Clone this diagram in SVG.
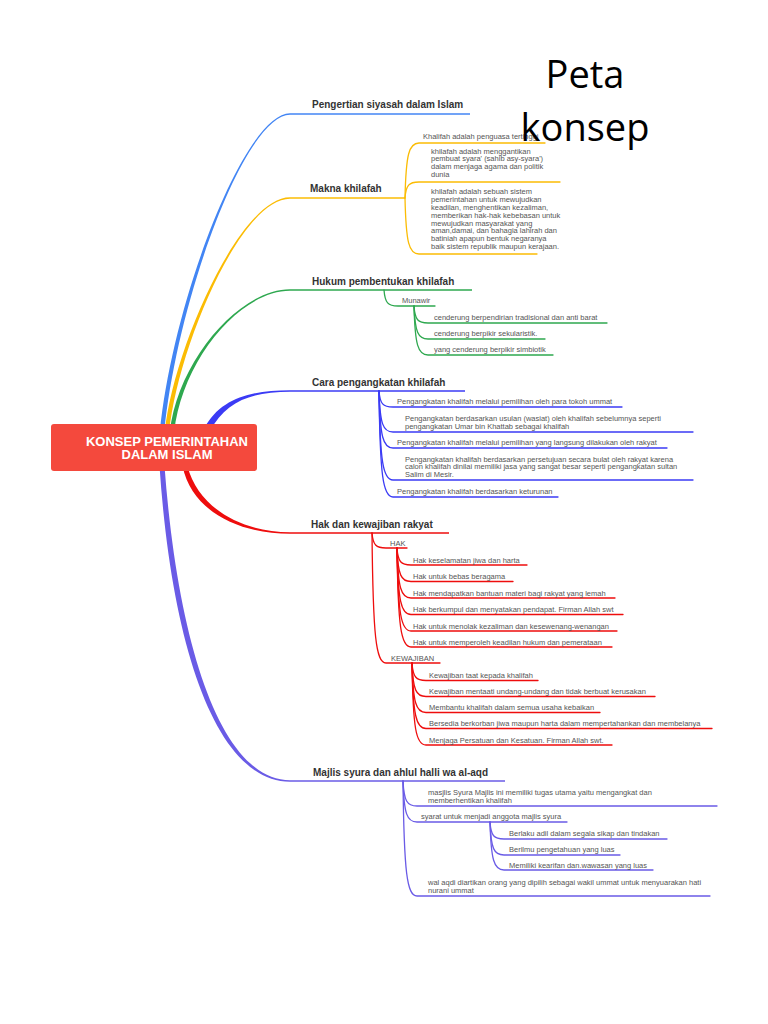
<svg xmlns="http://www.w3.org/2000/svg" width="768" height="1024" viewBox="0 0 768 1024">
<style>
.lbl{font-family:"Liberation Sans",Arial,sans-serif;font-size:10px;font-weight:bold;fill:#333}
.t{font-family:"Liberation Sans",Arial,sans-serif;font-size:7.5px;fill:#555}
.c{fill:none;stroke-width:1.3;stroke-linecap:round}
.m{fill:none;stroke-width:1.6}
.yel{stroke:#fbbc04}.blu{stroke:#4285f4}.grn{stroke:#2ea84f}.bl2{stroke:#3b3bf5}.red{stroke:#ee0d0d}.pur{stroke:#6a5be6}
.title{font-family:"Open Sans","Liberation Sans",sans-serif;font-size:38px;fill:#000}
.ctext{font-family:"Liberation Sans",Arial,sans-serif;font-size:13px;font-weight:bold;fill:#fff}
</style>
<rect width="768" height="1024" fill="#fff"/>
<g id="connectors">
  <!-- main branches (tapered) -->
  <path d="M159.8,432 C172.8,300 245,113.2 290,113.2 L290,114.8 C245,114.8 177.2,300 164.2,432 Z" fill="#4285f4"/>
  <line x1="290" y1="114" x2="470" y2="114" class="m blu"/>
  <path d="M164.8,432 C172.8,350 240,197.2 290,197.2 L290,198.8 C240,198.8 177.2,350 169.2,432 Z" fill="#fbbc04"/>
  <line x1="290" y1="198" x2="405" y2="198" class="m yel"/>
  <path d="M169.8,432 C177.8,360 240,289.2 290,289.2 L290,290.8 C240,290.8 182.2,360 174.2,432 Z" fill="#2ea84f"/>
  <line x1="290" y1="290" x2="472" y2="290" class="m grn"/>
  <path d="M204.5,428 C220,399 250,390.2 290,390.2 L290,391.8 C252,391.8 226,401 210,431 Z" fill="#3b3bf5"/>
  <line x1="290" y1="391" x2="465" y2="391" class="m bl2"/>
  <path d="M182.5,466 C192,512 240,533.8 290,533.8 L290,532.2 C242,532.2 198,508 187.5,466 Z" fill="#ee0d0d"/>
  <line x1="290" y1="533" x2="449" y2="533" class="m red"/>
  <path d="M159.5,466 C172,652 218,781.8 290,781.8 L290,780.2 C222,780.2 178,648 164.5,466 Z" fill="#6a5be6"/>
  <line x1="290" y1="781" x2="505" y2="781" class="m pur"/>

  <!-- Makna khilafah children -->
  <path d="M405,198 C406,154 409,143 419,143 H545" class="c yel"/>
  <path d="M405,198 C406,185 409,182 419,182 H560" class="c yel"/>
  <path d="M405,198 C406,243 409,254 419,254 H537" class="c yel"/>

  <!-- Hukum children -->
  <path d="M384,290 C385,303 388,306 398,306 H435" class="c grn"/>
  <path d="M414,306 C415,320 418,323 428,323 H607" class="c grn"/>
  <path d="M414,306 C415,332 418,339 428,339 H545" class="c grn"/>
  <path d="M414,306 C415,345 418,355 428,355 H553" class="c grn"/>

  <!-- Cara children -->
  <path d="M379,391 C380,404 383,407 393,407 H622" class="c bl2"/>
  <path d="M379,391 C380,424 383,432 393,432 H693" class="c bl2"/>
  <path d="M379,391 C380,437 383,448 393,448 H667" class="c bl2"/>
  <path d="M379,391 C380,462 383,480 393,480 H693" class="c bl2"/>
  <path d="M379,391 C380,476 383,497 393,497 H558" class="c bl2"/>

  <!-- Hak children -->
  <path d="M372,533 C373,545 376,548 386,548 H407" class="c red"/>
  <path d="M372,533 C373,637 376,663 386,663 H440" class="c red"/>
  <path d="M397,548 C398,562 401,565 411,565 H527" class="c red"/>
  <path d="M397,548 C398,575 401,581.5 411,581.5 H513" class="c red"/>
  <path d="M397,548 C398,588 401,598 411,598 H615" class="c red"/>
  <path d="M397,548 C398,601 401,614.5 411,614.5 H623" class="c red"/>
  <path d="M397,548 C398,614 401,631 411,631 H617" class="c red"/>
  <path d="M397,548 C398,627 401,647 411,647 H612" class="c red"/>
  <path d="M412,663 C413,677 416,680.5 426,680.5 H538" class="c red"/>
  <path d="M412,663 C413,690 416,696.5 426,696.5 H655" class="c red"/>
  <path d="M412,663 C413,703 416,712.5 426,712.5 H600" class="c red"/>
  <path d="M412,663 C413,715 416,728.5 426,728.5 H712" class="c red"/>
  <path d="M412,663 C413,729 416,745 426,745 H612" class="c red"/>

  <!-- Majlis children -->
  <path d="M403,781 C404,801 407,806 417,806 H717" class="c pur"/>
  <path d="M403,781 C404,814 407,822 417,822 H567" class="c pur"/>
  <path d="M403,781 C404,873 407,896 417,896 H710" class="c pur"/>
  <path d="M490,822 C491,836 494,839 504,839 H667" class="c pur"/>
  <path d="M490,822 C491,849 494,855 504,855 H620" class="c pur"/>
  <path d="M490,822 C491,860 494,870 504,870 H653" class="c pur"/>
</g>

<g id="center">
  <rect x="51" y="424" width="206" height="47" rx="3" fill="#f4493d"/>
  <text class="ctext" x="167" y="446" text-anchor="middle">KONSEP PEMERINTAHAN</text>
  <text class="ctext" x="167" y="459" text-anchor="middle">DALAM ISLAM</text>
</g>

<g id="pengertian"><text class="lbl" x="312" y="108">Pengertian siyasah dalam Islam</text></g>

<g id="makna">
  <text class="lbl" x="310" y="192">Makna khilafah</text>
  <g id="makna-1"><text class="t" x="423" y="139">Khalifah adalah penguasa tertinggi</text></g>
  <g id="makna-2"><text class="t" x="431" y="153.5">khilafah adalah menggantikan</text>
  <text class="t" x="431" y="161.3">pembuat syara' (sahib asy-syara')</text>
  <text class="t" x="431" y="169.1">dalam menjaga agama dan politik</text>
  <text class="t" x="431" y="176.9">dunia</text></g>
  <g id="makna-3"><text class="t" x="431" y="194.3">khilafah adalah sebuah sistem</text>
  <text class="t" x="431" y="202.1">pemerintahan untuk mewujudkan</text>
  <text class="t" x="431" y="209.9">keadilan, menghentikan kezaliman,</text>
  <text class="t" x="431" y="217.7">memberikan hak-hak kebebasan untuk</text>
  <text class="t" x="431" y="225.5">mewujudkan masyarakat yang</text>
  <text class="t" x="431" y="233.3">aman,damai, dan bahagia lahirah dan</text>
  <text class="t" x="431" y="241.1">batiniah apapun bentuk negaranya</text>
  <text class="t" x="431" y="248.9">baik sistem republik maupun kerajaan.</text></g>
</g>

<g id="hukum">
  <text class="lbl" x="312" y="285">Hukum pembentukan khilafah</text>
  <g id="munawir"><text class="t" x="402" y="303">Munawir</text></g>
  <g id="hukum-1"><text class="t" x="434" y="320">cenderung berpendirian tradisional dan anti barat</text></g>
  <g id="hukum-2"><text class="t" x="434" y="336">cenderung berpikir sekularistik.</text></g>
  <g id="hukum-3"><text class="t" x="434" y="352">yang cenderung berpikir simbiotik</text></g>
</g>

<g id="cara">
  <text class="lbl" x="312" y="386">Cara pengangkatan khilafah</text>
  <g id="cara-1"><text class="t" x="397" y="404">Pengangkatan khalifah melalui pemilihan oleh para tokoh ummat</text></g>
  <g id="cara-2"><text class="t" x="405" y="421">Pengangkatan berdasarkan usulan (wasiat) oleh khalifah sebelumnya seperti</text>
  <text class="t" x="405" y="428.8">pengangkatan Umar bin Khattab sebagai khalifah</text></g>
  <g id="cara-3"><text class="t" x="397" y="445">Pengangkatan khalifah melalui pemilihan yang langsung dilakukan oleh rakyat</text></g>
  <g id="cara-4"><text class="t" x="405" y="461.5">Pengangkatan khalifah berdasarkan persetujuan secara bulat oleh rakyat karena</text>
  <text class="t" x="405" y="469.3">calon khalifah dinilai memiliki jasa yang sangat besar seperti pengangkatan sultan</text>
  <text class="t" x="405" y="477.1">Salim di Mesir.</text></g>
  <g id="cara-5"><text class="t" x="397" y="494">Pengangkatan khalifah berdasarkan keturunan</text></g>
</g>

<g id="hak">
  <text class="lbl" x="311" y="528">Hak dan kewajiban rakyat</text>
  <g id="hak-hak"><text class="t" x="390" y="546">HAK</text></g>
  <g id="hak-1"><text class="t" x="413" y="562.5">Hak keselamatan jiwa dan harta</text></g>
  <g id="hak-2"><text class="t" x="413" y="579">Hak untuk bebas beragama</text></g>
  <g id="hak-3"><text class="t" x="413" y="595.5">Hak mendapatkan bantuan materi bagi rakyat yang lemah</text></g>
  <g id="hak-4"><text class="t" x="413" y="612">Hak berkumpul dan menyatakan pendapat. Firman Allah swt</text></g>
  <g id="hak-5"><text class="t" x="413" y="628.5">Hak untuk menolak kezaliman dan kesewenang-wenangan</text></g>
  <g id="hak-6"><text class="t" x="413" y="644.5">Hak untuk memperoleh keadilan hukum dan pemerataan</text></g>
  <g id="kewajiban"><text class="t" x="391" y="660.5">KEWAJIBAN</text></g>
  <g id="kew-1"><text class="t" x="429" y="678">Kewajiban taat kepada khalifah</text></g>
  <g id="kew-2"><text class="t" x="429" y="694">Kewajiban mentaati undang-undang dan tidak berbuat kerusakan</text></g>
  <g id="kew-3"><text class="t" x="429" y="710">Membantu khalifah dalam semua usaha kebaikan</text></g>
  <g id="kew-4"><text class="t" x="429" y="726">Bersedia berkorban jiwa maupun harta dalam mempertahankan dan membelanya</text></g>
  <g id="kew-5"><text class="t" x="429" y="742.5">Menjaga Persatuan dan Kesatuan. Firman Allah swt.</text></g>
</g>

<g id="majlis">
  <text class="lbl" x="313" y="776">Majlis syura dan ahlul halli wa al-aqd</text>
  <g id="majlis-1"><text class="t" x="428" y="795">masjlis Syura Majlis ini memiliki tugas utama yaitu mengangkat dan</text>
  <text class="t" x="428" y="802.8">memberhentikan khalifah</text></g>
  <g id="majlis-2"><text class="t" x="421" y="819">syarat untuk menjadi anggota majlis syura</text></g>
  <g id="syarat-1"><text class="t" x="509" y="836">Berlaku adil dalam segala sikap dan tindakan</text></g>
  <g id="syarat-2"><text class="t" x="509" y="852">Berilmu pengetahuan yang luas</text></g>
  <g id="syarat-3"><text class="t" x="509" y="867.5">Memiliki kearifan dan.wawasan yang luas</text></g>
  <g id="majlis-3"><text class="t" x="428" y="885">wal aqdi diartikan orang yang dipilih sebagai wakil ummat untuk menyuarakan hati</text>
  <text class="t" x="428" y="892.8">nurani ummat</text></g>
</g>

<g id="title">
  <text class="title" x="585" y="88" text-anchor="middle">Peta</text>
  <text class="title" x="585" y="141" text-anchor="middle">konsep</text>
</g>
</svg>
